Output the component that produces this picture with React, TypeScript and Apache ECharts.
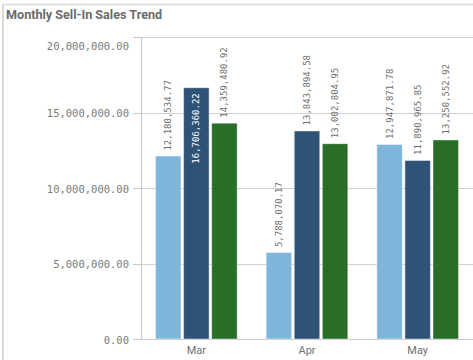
import React, { useEffect, useRef } from "react";
import * as echarts from "echarts";

const categories = ["Mar", "Apr", "May"];
const seriesA = [12180534.77, 5788070.17, 12947871.78];
const seriesB = [16706360.22, 13843894.58, 11890965.85];
const seriesC = [14359480.92, 13002804.95, 13250552.92];
const colors = ["#7db6da", "#2f5277", "#286d28"];
const yMax = 20000000;
const yStep = 5000000;
const insideLabelIndex = { series: 1, index: 0 };

const fmt = (v: number) =>
  v.toLocaleString("en-US", { minimumFractionDigits: 2, maximumFractionDigits: 2 });

export default function App() {
  const ref = useRef<HTMLDivElement>(null);
  useEffect(() => {
    if (!ref.current) return;
    const chart = echarts.init(ref.current, undefined, { renderer: "svg" });
    const mono = "DejaVu Sans Mono";
    const outsideLabel = {
      show: true,
      position: "top",
      rotate: 90,
      align: "left",
      verticalAlign: "middle",
      distance: 5,
      fontFamily: mono,
      fontSize: 9,
      color: "#707070",
      formatter: (p: any) => fmt(p.value),
    };
    const mk = (name: string, data: number[], color: string, si: number) => ({
      name,
      type: "bar",
      barWidth: 26.5,
      barGap: "6%",
      itemStyle: { color, borderColor: "rgba(255,255,255,0.45)", borderWidth: 1 },
      label: outsideLabel,
      data: data.map((v, i) =>
        si === insideLabelIndex.series && i === insideLabelIndex.index
          ? {
              value: v,
              label: {
                position: "insideTop",
                align: "right",
                verticalAlign: "middle",
                distance: 6,
                color: "#ffffff",
              },
            }
          : v
      ),
    });
    chart.setOption({
      animation: false,
      graphic: [
        { type: "line", shape: { x1: 3, y1: 4, x2: 3, y2: 360 }, style: { stroke: "#d9d9d9", lineWidth: 2 } },
        { type: "line", shape: { x1: 2, y1: 4.5, x2: 473, y2: 4.5 }, style: { stroke: "#d9d9d9", lineWidth: 1.5 } },
        {
          type: "text",
          left: 6,
          top: 8,
          style: {
            text: "Monthly Sell-In Sales Trend",
            font: "bold 12.6px Roboto",
            fill: "#6b6b6b",
          },
        },
      ],
      grid: { left: 141, top: 37.5, width: 336, height: 302 },
      xAxis: {
        type: "category",
        data: categories,
        axisLine: { show: true, lineStyle: { color: "#c8c8c8" } },
        axisTick: { show: false },
        axisLabel: { color: "#707070", fontSize: 11, fontFamily: "Roboto", margin: 5 },
      },
      yAxis: {
        type: "value",
        min: 0,
        max: yMax,
        interval: yStep,
        axisLine: { show: true, lineStyle: { color: "#c8c8c8" } },
        axisTick: { show: true, length: 8, lineStyle: { color: "#c8c8c8" } },
        splitLine: { show: true, lineStyle: { color: "#d0d0d0" } },
        axisLabel: {
          color: "#7a7a7a",
          fontFamily: mono,
          fontSize: 10.5,
          margin: 12,
          padding: [3, 0, 3, 0],
          verticalAlignMaxLabel: "top",
          formatter: (v: number) => fmt(v),
        },
      },
      series: [
        mk("A", seriesA, colors[0], 0),
        mk("B", seriesB, colors[1], 1),
        mk("C", seriesC, colors[2], 2),
      ],
    });
    return () => chart.dispose();
  }, []);
  return (
    <div
      ref={ref}
      style={{ position: "fixed", left: 0, top: 0, width: 473, height: 360, background: "#fff" }}
    />
  );
}
